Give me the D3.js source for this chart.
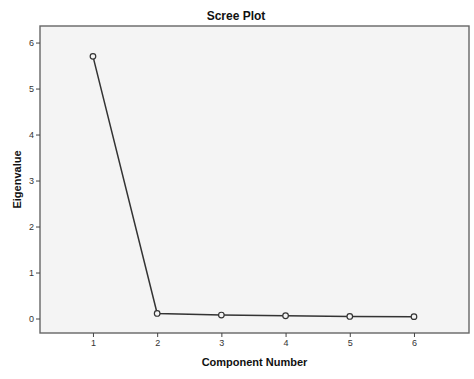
<!DOCTYPE html>
<html><head><meta charset="utf-8">
<script src="https://cdn.jsdelivr.net/npm/d3@7"></script>
<style>body{margin:0;background:#fff;} svg{display:block;font-family:Arial,"Liberation Sans",sans-serif;}</style>
</head><body>
<script>
const components = [1, 2, 3, 4, 5, 6];
const eigenvalues = [5.70, 0.11, 0.075, 0.06, 0.045, 0.04];
const yTicks = [0, 1, 2, 3, 4, 5, 6];
const xTicks = [1, 2, 3, 4, 5, 6];

const W = 474, H = 379;
const m = {left: 40, right: 5, top: 26, bottom: 46};
const svg = d3.select("body").append("svg").attr("width", W).attr("height", H);
const x = d3.scaleLinear().domain([0.175, 6.857]).range([m.left, W - m.right]);
const y = d3.scaleLinear().domain([-0.315, 6.36]).range([H - m.bottom, m.top]);

svg.append("rect").attr("x", m.left).attr("y", m.top)
  .attr("width", W - m.right - m.left).attr("height", H - m.bottom - m.top)
  .attr("fill", "#f4f4f4").attr("stroke", "#666").attr("stroke-width", 1.4);

const ya = svg.append("g").attr("transform", `translate(${m.left},0)`)
  .call(d3.axisLeft(y).tickValues(yTicks).tickSize(4).tickPadding(2).tickFormat(d3.format("d")));
const xa = svg.append("g").attr("transform", `translate(0,${H - m.bottom})`)
  .call(d3.axisBottom(x).tickValues(xTicks).tickSize(4).tickPadding(3).tickFormat(d3.format("d")));
[ya, xa].forEach(a => {
  a.select(".domain").remove();
  a.selectAll("line").attr("stroke", "#444");
  a.selectAll("text").attr("fill", "#333").style("font-size", "9px");
});

const data = components.map((c, i) => ({c, v: eigenvalues[i]}));
svg.append("path").datum(data)
  .attr("fill", "none").attr("stroke", "#333").attr("stroke-width", 1.5)
  .attr("d", d3.line().x(d => x(d.c)).y(d => y(d.v)));
svg.selectAll("circle.pt").data(data).join("circle").attr("class", "pt")
  .attr("cx", d => x(d.c)).attr("cy", d => y(d.v)).attr("r", 2.8)
  .attr("fill", "#f4f4f4").attr("stroke", "#333").attr("stroke-width", 1.2);

svg.append("text").attr("x", 236).attr("y", 20).attr("text-anchor", "middle")
  .style("font-size", "12px").style("font-weight", "bold").attr("fill", "#111").text("Scree Plot");
svg.append("text").attr("x", (m.left + W - m.right) / 2).attr("y", 366).attr("text-anchor", "middle")
  .style("font-size", "11px").style("font-weight", "bold").attr("fill", "#111").text("Component Number");
svg.append("text").attr("transform", `translate(21,${(m.top + H - m.bottom) / 2}) rotate(-90)`)
  .attr("text-anchor", "middle")
  .style("font-size", "11px").style("font-weight", "bold").attr("fill", "#111").text("Eigenvalue");
</script>
</body></html>
